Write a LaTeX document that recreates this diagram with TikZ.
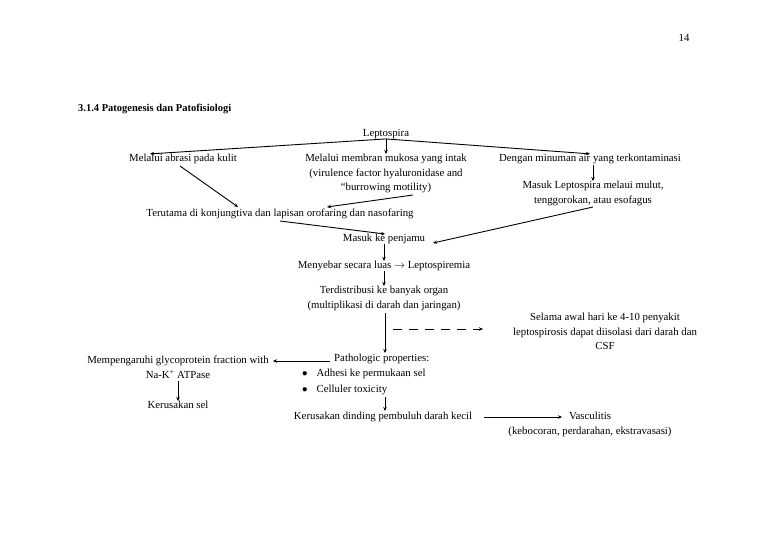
\documentclass[tikz,border=0pt]{standalone}
\usepackage{fontspec}
\setmainfont{Liberation Serif}
\usetikzlibrary{arrows.meta}
\begin{document}
\begin{tikzpicture}[x=1pt,y=-1pt,
  t/.style={inner sep=0pt,align=center,font=\fontsize{10.8}{14.5}\selectfont},
  ar/.style={-{Stealth[length=4pt,width=3.5pt]},line width=0.9pt}]
\fill[white] (0,0) rectangle (768,543);
\useasboundingbox (0,0) rectangle (768,543);
\node[t] (pg) at (684,38) {14};
\node[t,anchor=west,font=\fontsize{10.5}{12}\selectfont\bfseries] (title) at (78,109) {3.1.4 Patogenesis dan Patofisiologi};
\node[t] (lep) at (386,134) {Leptospira};
\node[t] (abr) at (183,159) {Melalui abrasi pada kulit};
\node[t,anchor=north] (muk) at (386,154) {Melalui membran mukosa yang intak\\(virulence factor hyaluronidase and\\``burrowing motility)};
\node[t] (den) at (590,159) {Dengan minuman air yang terkontaminasi};
\node[t,anchor=north] (mul) at (593,181) {Masuk Leptospira melaui mulut,\\tenggorokan, atau esofagus};
\node[t] (ter) at (280,214) {Terutama di konjungtiva dan lapisan orofaring dan nasofaring};
\node[t] (pen) at (384,239) {Masuk ke penjamu};
\node[t] (men) at (384,266) {Menyebar secara luas $\rightarrow$ Leptospiremia};
\node[t,anchor=north] (dis) at (384,286) {Terdistribusi ke banyak organ\\(multiplikasi di darah dan jaringan)};
\node[t,anchor=north] (sel) at (605,313) {Selama awal hari ke 4-10 penyakit\\leptospirosis dapat diisolasi dari darah dan\\CSF};
\node[t,anchor=west] (pat) at (334,359) {Pathologic properties:};
\node[t,anchor=west] (b1) at (302,374) {$\bullet$\hspace{9pt}Adhesi ke permukaan sel};
\node[t,anchor=west] (b2) at (302,390) {$\bullet$\hspace{9pt}Celluler toxicity};
\node[t,anchor=north] (mem) at (178,356) {Mempengaruhi glycoprotein fraction with\\Na-K\textsuperscript{+} ATPase};
\node[t] (ker) at (178,405) {Kerusakan sel};
\node[t] (kd) at (383,417) {Kerusakan dinding pembuluh darah kecil};
\node[t,anchor=north] (vas) at (590,412) {Vasculitis\\(kebocoran, perdarahan, ekstravasasi)};
\coordinate (ds) at (393,329);
\coordinate (de) at (483,329);
\coordinate (kdt) at (385,411);
\coordinate (pl) at (330,361);
\draw[ar] (lep.south) -- ([xshift=-33pt]abr.north);
\draw[ar] (lep.south) -- (muk.north);
\draw[ar] (lep.south) -- (den.north);
\draw[ar] (180,166) -- (238,207);
\draw[ar] (413,195) -- (327,207);
\draw[ar] (280,221) -- (385,234);
\draw[ar] (593,165) -- (mul.north);
\draw[ar] (593,207) -- (433,243);
\draw[ar] (pen.south) -- (men.north);
\draw[ar] (men.south) -- (dis.north);
\draw[ar] (385,313) -- (385,353);
\draw[ar,dash pattern=on 9pt off 7pt] (ds) -- (de);
\draw[ar] (pl) -- (273,361);
\draw[ar] (178,381) -- (ker.north);
\draw[ar] (385,397) -- (kdt);
\draw[ar] (484,417) -- (562,417);
\end{tikzpicture}
\end{document}
